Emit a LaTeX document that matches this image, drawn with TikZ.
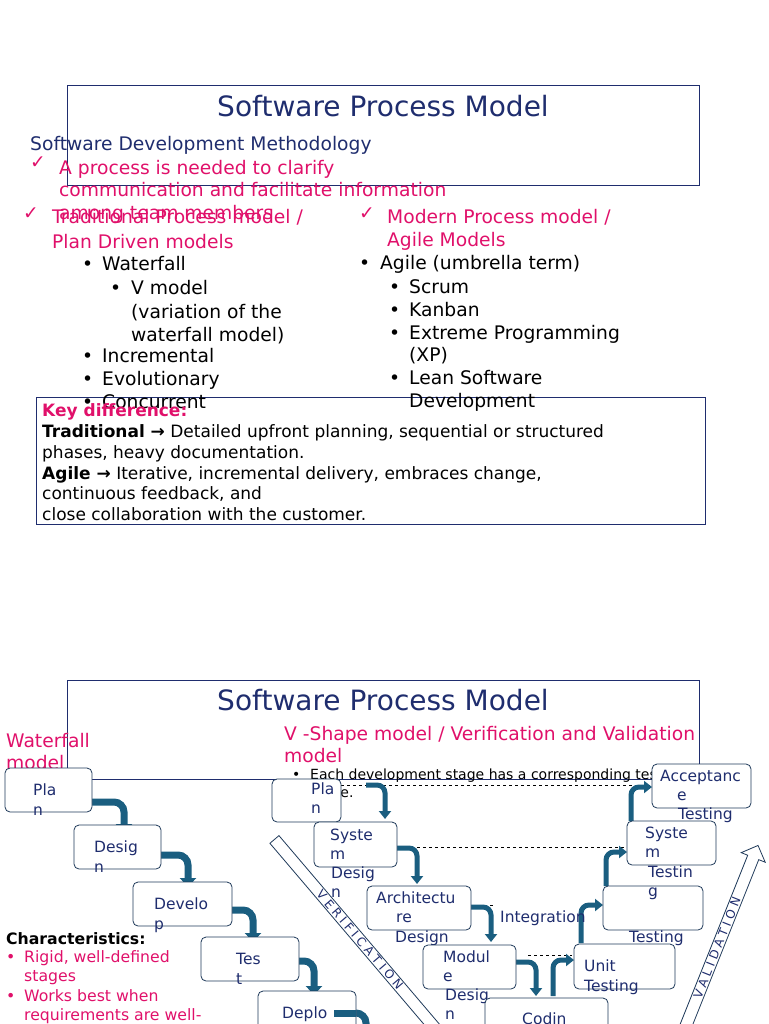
\documentclass[tikz,border=0pt]{standalone}
\usepackage{fontspec}
\setmainfont{DejaVu Sans}
\usetikzlibrary{shapes.arrows,arrows.meta}
\definecolor{navy}{HTML}{1F2D6E}
\definecolor{pink}{HTML}{E0106A}
\definecolor{teal}{HTML}{1A5E80}
\definecolor{bx}{HTML}{1F3A5A}
\begin{document}
\begin{tikzpicture}[x=1pt,y=-1pt,
 t/.style={anchor=base west,inner sep=0pt},
 pk/.style={t,text=pink,font=\fontsize{18.7}{18.7}\selectfont},
 bk/.style={t,text=black,font=\fontsize{18.7}{18.7}\selectfont},
 kd/.style={t,text=black,font=\fontsize{17}{17}\selectfont},
 lb/.style={t,text=navy,font=\fontsize{15.5}{15.5}\selectfont},
 cs/.style={t,text=pink,font=\fontsize{15.7}{15.7}\selectfont},
 frame/.style={draw=navy,line width=0.6pt},
 rb/.style={draw=bx,line width=0.8pt,rounded corners=5pt,fill=white},
 fl/.style={draw=teal,line width=7pt,rounded corners=10pt,-{Triangle[width=16pt,length=9pt]}},
 vl/.style={draw=teal,line width=5pt,rounded corners=8pt,-{Triangle[width=12pt,length=8pt]}},
 dsh/.style={draw=black,dashed,line width=0.8pt},
 va/.style={single arrow,draw=bx,fill=white,line width=0.8pt,minimum width=22pt,single arrow head extend=7pt,inner sep=1pt,font=\fontsize{12}{12}\selectfont,text=navy}]
\useasboundingbox (0,0) rectangle (768,1024);
% ===== top slide =====
\draw[frame] (67,85) rectangle (699,185);
\node[text=navy,font=\fontsize{28}{28}\selectfont] (t1) at (383,106) {Software Process Model};
\node[t,text=navy,font=\fontsize{18.7}{18.7}\selectfont] (sdm) at (30,151) {Software Development Methodology};
\draw[draw=navy,line width=0.8pt] (36,397) rectangle (705,524);
\node[pk] (c1) at (30,169) {\char"2713};
\node[pk] (p1) at (59,175) {A process is needed to clarify};
\node[pk] (p2) at (59,197) {communication and facilitate information};
\node[pk] (p3) at (59,220) {among team members};
\node[pk] (c2) at (23,219) {\char"2713};
\node[pk] (tr1) at (52,224) {Traditional Process model /};
\node[pk] (tr2) at (52,248) {Plan Driven models};
\node[bk] at (82,270) {•}; \node[bk] at (102,270) {Waterfall};
\node[bk] at (110,294) {•}; \node[bk] at (131,294) {V model};
\node[bk] at (131,318) {(variation of the};
\node[bk] at (131,341) {waterfall model)};
\node[bk] at (82,362) {•}; \node[bk] at (102,362) {Incremental};
\node[bk] at (82,385) {•}; \node[bk] at (102,385) {Evolutionary};
\node[bk] at (82,408) {•}; \node[bk] at (102,408) {Concurrent};
\node[pk] (c3) at (359,219) {\char"2713};
\node[pk] (m1) at (387,224) {Modern Process model /};
\node[pk] (m2) at (387,247) {Agile Models};
\node[bk] at (359,269) {•}; \node[bk] at (380,269) {Agile (umbrella term)};
\node[bk] at (389,293) {•}; \node[bk] at (409,293) {Scrum};
\node[bk] at (389,316) {•}; \node[bk] at (409,316) {Kanban};
\node[bk] at (389,339) {•}; \node[bk] at (409,339) {Extreme Programming};
\node[bk] at (409,361) {(XP)};
\node[bk] at (389,384) {•}; \node[bk] at (409,384) {Lean Software};
\node[bk] at (409,407) {Development};
\node[kd,text=pink,font=\bfseries\fontsize{17}{17}\selectfont] (kd) at (42,416) {Key difference:};
\node[kd] at (42,437) {\textbf{Traditional →} Detailed upfront planning, sequential or structured};
\node[kd] at (42,458) {phases, heavy documentation.};
\node[kd] at (42,479) {\textbf{Agile →} Iterative, incremental delivery, embraces change,};
\node[kd] at (42,499) {continuous feedback, and};
\node[kd] at (42,520) {close collaboration with the customer.};
% ===== bottom slide =====
\draw[frame] (67,680) rectangle (699,779);
\node[text=navy,font=\fontsize{28}{28}\selectfont] (t2) at (383,700) {Software Process Model};
\node[pk] at (6,747) {Waterfall}; \node[pk] at (6,769) {model};
\node[pk] at (284,740) {V -Shape model / Verification and Validation};
\node[pk] at (284,762) {model};
\node[t,font=\fontsize{14}{14}\selectfont] at (292,779) {•};
\node[t,font=\fontsize{14}{14}\selectfont] at (310,779) {Each development stage has a corresponding testing};
\node[t,font=\fontsize{14}{14}\selectfont] at (310,797) {stage.};
% waterfall
\draw[fl] (92,802) -- (124,802) -- (124,833);
\draw[fl] (161,855) -- (188,855) -- (188,887);
\draw[fl] (221,910) -- (253,910) -- (253,942);
\draw[fl] (283,961) -- (314,961) -- (314,995);
\draw[fl] (334,1013) -- (366,1013) -- (366,1040);
\draw[rb] (5,768) rectangle (92,812); \node[lb] at (33,795) {Pla}; \node[lb] at (33,815) {n};
\draw[rb] (74,825) rectangle (161,869); \node[lb] at (94,852) {Desig}; \node[lb] at (94,872) {n};
\draw[rb] (133,882) rectangle (232,926); \node[lb] at (154,909) {Develo}; \node[lb] at (154,929) {p};
\draw[rb] (201,937) rectangle (299,981); \node[lb] at (236,964) {Tes}; \node[lb] at (236,984) {t};
\draw[rb] (258,991) rectangle (356,1040); \node[lb] at (282,1018) {Deplo};
\draw[teal,line width=7pt] (334,1013) -- (356,1013);
\node[t,font=\bfseries\fontsize{15.7}{15.7}\selectfont] at (6,944) {Characteristics:};
\node[cs] at (6,962) {•}; \node[cs] at (24,962) {Rigid, well-defined};
\node[cs] at (24,981) {stages};
\node[cs] at (6,1001) {•}; \node[cs] at (24,1001) {Works best when};
\node[cs] at (24,1020) {requirements are well-};
% V model
\node[va,rotate=-49.6,minimum height=270pt] (ver) at (360,940) {V E R I F I C A T I O N};
\node[va,rotate=68.2,minimum height=215pt] (val) at (717,948) {V A L I D A T I O N};
\draw[dsh] (341,785) -- (650,785);
\draw[dsh] (405,847) -- (625,847);
\draw[dsh] (472,905) -- (495,905);
\draw[dsh] (528,955) -- (572,955);
\draw[vl] (366,785) -- (385,785) -- (385,819);
\draw[vl] (397,848) -- (417,848) -- (417,884);
\draw[vl] (471,907) -- (491,907) -- (491,942);
\draw[vl] (516,962) -- (536,962) -- (536,996);
\draw[vl] (553,996) -- (553,960) -- (574,960);
\draw[vl] (581,943) -- (581,905) -- (603,905);
\draw[vl] (606,886) -- (606,852) -- (627,852);
\draw[vl] (631,821) -- (631,787) -- (652,787);
\draw[rb] (272,779) rectangle (341,822); \node[lb] at (311,794) {Pla}; \node[lb] at (311,813) {n};
\draw[rb] (314,822) rectangle (397,867); \node[lb] at (330,840) {Syste}; \node[lb] at (330,859) {m}; \node[lb] at (331,878) {Desig}; \node[lb] at (331,897) {n};
\draw[rb] (367,886) rectangle (471,930); \node[lb] at (376,903) {Architectu}; \node[lb] at (396,922) {re}; \node[lb] at (395,942) {Design};
\draw[rb] (423,945) rectangle (516,989); \node[lb] at (443,962) {Modul}; \node[lb] at (443,981) {e}; \node[lb] at (445,1000) {Desig}; \node[lb] at (445,1019) {n};
\draw[rb] (485,998) rectangle (608,1040); \node[lb] at (522,1024) {Codin};
\draw[rb] (574,944) rectangle (675,989); \node[lb] at (584,971) {Unit}; \node[lb] at (584,991) {Testing};
\draw[rb] (603,886) rectangle (703,930); \node[lb] at (500,922) {Integration}; \node[lb] at (629,942) {Testing};
\draw[rb] (627,821) rectangle (716,865); \node[lb] at (645,838) {Syste}; \node[lb] at (645,857) {m}; \node[lb] at (648,877) {Testin}; \node[lb] at (648,896) {g};
\draw[rb] (652,764) rectangle (751,808); \node[lb] at (660,781) {Acceptanc}; \node[lb] at (677,800) {e}; \node[lb] at (678,819) {Testing};
\end{tikzpicture}
\end{document}
